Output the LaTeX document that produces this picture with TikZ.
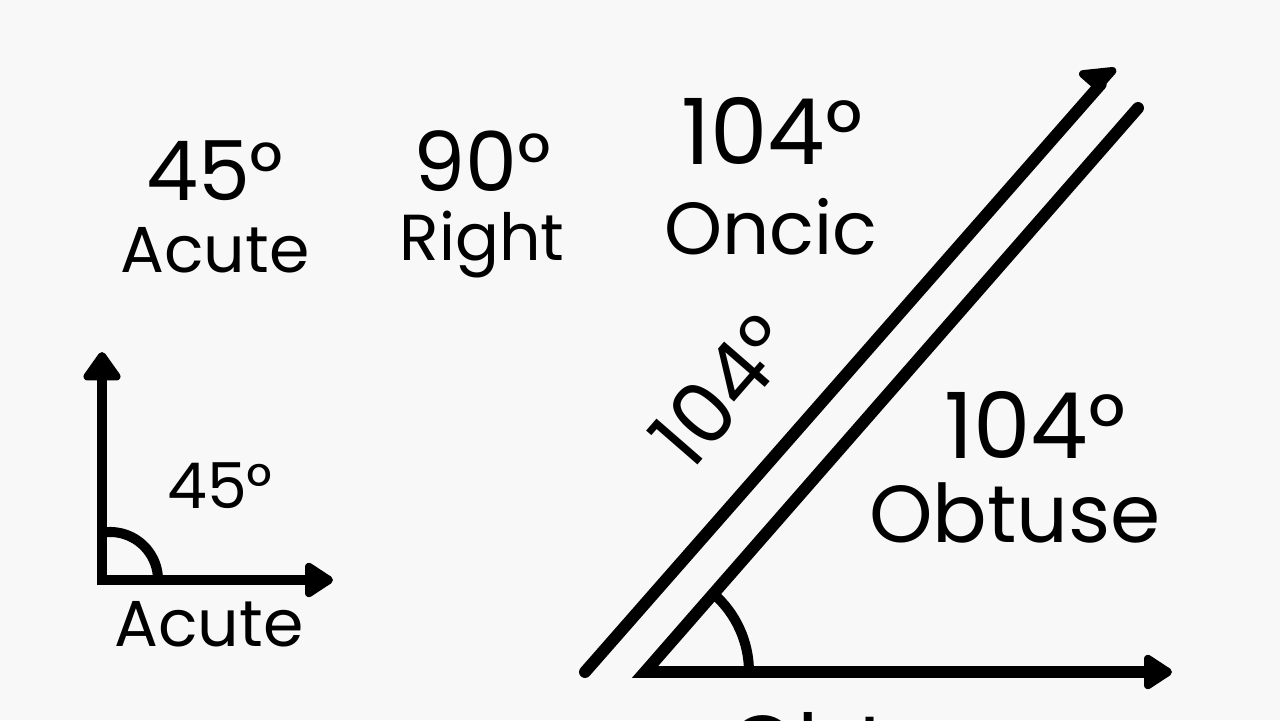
\documentclass[tikz,border=0pt]{standalone}
\usepackage{fontspec}
\setmainfont{Poppins}
\usetikzlibrary{arrows.meta}
\definecolor{paper}{RGB}{248,248,248}

\begin{document}
\begin{tikzpicture}[%
			x=0.1mm, y=0.1mm,
			every node/.style={inner sep=0pt, align=center},
			deg/.style={font=\fontsize{23.5}{28}\selectfont},
			word/.style={font=\fontsize{18.5}{22}\selectfont},
			small/.style={font=\fontsize{18}{22}\selectfont},
			ray/.style={line width=3.4pt, line cap=round, line join=miter},
			leg/.style={line width=2.85pt, line join=miter},
			tip/.style={-{Triangle[length=9pt,width=11pt,round]}}
			]
			\fill[paper] (0,0) rectangle (1280,720);
			\clip (0,0) rectangle (1280,720);
			% top row
			\node[deg, anchor=base] (acuteDeg) at (215,520) {45°};
			\node[word, anchor=base] (acuteName) at (215,448) {Acute};
			\node[deg, anchor=base] (rightDeg) at (482,529) {90°};
			\node[word, anchor=base] (rightName) at (482,460) {Right};
			\node[font=\fontsize{26}{30}\selectfont, anchor=base] (oncicDeg) at (772,556) {104°};
			\node[font=\fontsize{21}{25}\selectfont, anchor=base] (oncicName) at (771,466) {Oncic};
			% left angle
			\coordinate (o1) at (102,140);
			\coordinate (up1) at (102,368);
			\coordinate (out1) at (333,140);
			\draw[leg, {Triangle[length=9pt,width=12pt,round]}-{Triangle[length=9pt,width=11pt,round]}] (up1) -- (o1) -- (out1);
			\draw[leg] (101.7,187.3) arc[start angle=100, end angle=0, radius=48];
			\node[small, anchor=base] (leftDeg) at (220,212) {45°};
			\node[word, anchor=base] (leftName) at (209,74) {Acute};
			% right angle
			\coordinate (v) at (645,48);
			\coordinate (foot) at (585,48);
			\coordinate (top) at (1115,652);
			\coordinate (arm) at (1138,612);
			\coordinate (base) at (1172,48);
			\draw[ray, -{Triangle[left,length=9pt,width=16pt,round]}] (foot) -- (top);
			\draw[ray, tip] (arm) -- (v) -- (base);
			\draw[leg] ([shift={(104,0)}]v) arc[start angle=0, end angle=49, radius=104];
			\node[font=\fontsize{24}{28}\selectfont, rotate=49] (slantDeg) at (722,330) {104°};
			\node[font=\fontsize{26}{30}\selectfont, anchor=base] (obtuseDeg) at (1035,262) {104°};
			\node[font=\fontsize{23}{28}\selectfont, anchor=base] (obtuseName) at (1015,178) {Obtuse};
			\node[font=\fontsize{25}{30}\selectfont, anchor=base west] (cutName) at (728,-57) {Obtuse};
		\end{tikzpicture}
\end{document}
